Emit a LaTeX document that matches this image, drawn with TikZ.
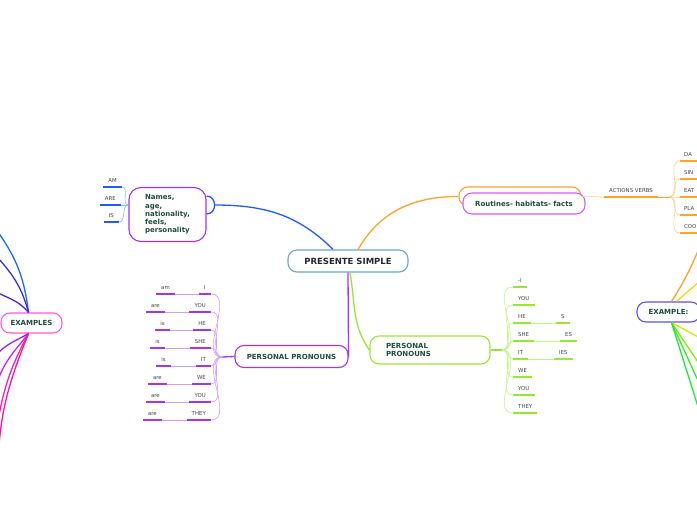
\documentclass[tikz,border=0pt]{standalone}
\usepackage{fontspec}
\setmainfont{DejaVu Sans}
\usetikzlibrary{positioning}
\definecolor{txtgreen}{HTML}{1F4D3D}
\definecolor{leaftxt}{HTML}{444444}
\definecolor{ctrblue}{HTML}{6AA6DA}
\definecolor{linkblue}{HTML}{1F5BFF}
\definecolor{paleblue}{HTML}{8FB2FF}
\definecolor{violet1}{HTML}{9A35F2}
\definecolor{purp}{HTML}{A335F0}
\definecolor{palepurp}{HTML}{D29CF7}
\definecolor{orng}{HTML}{FFA323}
\definecolor{paleorng}{HTML}{FFCF80}
\definecolor{magfr}{HTML}{DD5CF0}
\definecolor{lime}{HTML}{96EA2E}
\definecolor{palelime}{HTML}{C4F288}
\definecolor{exblue}{HTML}{5A52E8}
\definecolor{expink}{HTML}{FF5AD8}
\definecolor{exyel}{HTML}{FFD600}
\definecolor{exgA}{HTML}{CDF000}
\definecolor{exgB}{HTML}{82EE00}
\definecolor{exgC}{HTML}{3EE81E}
\definecolor{exgD}{HTML}{18EE3C}
\definecolor{exsA}{HTML}{2266FF}
\definecolor{exsB}{HTML}{3333E6}
\definecolor{exsC}{HTML}{4628EE}
\definecolor{exsD}{HTML}{9622EE}
\definecolor{exsE}{HTML}{C822EE}
\definecolor{exsF}{HTML}{EE1EC8}
\definecolor{exsG}{HTML}{FF1496}

\begin{document}
\begin{tikzpicture}[x=1pt,y=-1pt,
    main node/.style={draw,rounded corners=9pt,line width=1.1pt,fill=white,text=txtgreen,font=\bfseries\fontsize{7}{8.2}\selectfont,inner sep=0pt},
    leaf/.style={anchor=south west,inner xsep=5pt,inner ysep=0pt,text height=4pt,text depth=4.5pt,font=\fontsize{5.4}{6}\selectfont,text=leaftxt,
      append after command={(\tikzlastnode.south west) edge[draw=#1,line width=1.5pt] (\tikzlastnode.south east)}},
    twig/.style={draw=#1,line width=0.6pt},
    link/.style={draw=#1,line width=1.3pt}]
    \useasboundingbox (0,0) rectangle (697,520);

    % main topics
    \node[main node,draw=ctrblue,text=black!85,font=\bfseries\fontsize{8.5}{10}\selectfont,minimum width=120pt,minimum height=22pt] (ctr) at (348,261) {PRESENTE SIMPLE};
    \node[main node,draw=violet1,rounded corners=12pt,minimum width=77pt,minimum height=54pt,align=left] (names) at (167.5,214.5) {Names,\\age,\\nationality,\\feels,\\personality};
    \node[main node,draw=purp,minimum width=113pt,minimum height=22pt] (ppl) at (291.5,356.5) {PERSONAL PRONOUNS};
    \node[main node,draw=lime,minimum width=120pt,minimum height=28pt,text width=88pt,align=left] (ppr) at (430,350) {PERSONAL\\PRONOUNS};
    \node[main node,draw=orng,minimum width=122pt,minimum height=19pt] (rout) at (520,196.5) {};
    \node[main node,draw=magfr,minimum width=122pt,minimum height=21pt] (routb) at (524,203.5) {Routines- habitats- facts};
    \node[main node,draw=exblue,minimum width=63pt,minimum height=20pt] (ex) at (668.5,312) {EXAMPLE:};
    \node[main node,draw=expink,minimum width=61pt,minimum height=20pt] (exs) at (31.5,323) {EXAMPLES};

    % links from the centre
    \path[link=linkblue] ([xshift=-15pt]ctr.north) edge[out=135,in=0] ([xshift=8pt,yshift=9.5pt]names.east);
    \path[link=linkblue] ([yshift=18.5pt]names.east) .. controls +(10.7,0) and +(10.7,0) .. ([yshift=0.5pt]names.east);
    \path[link=orng] ([xshift=10pt]ctr.north) edge[out=60,in=180] (rout.west);
    \path[link=purp] (ctr.south) edge (ppl.east);
    \path[link=lime] ([xshift=2pt]ctr.south) edge[out=-80,in=125] (ppr.west);

    % AM ARE IS
    \node[leaf=linkblue,anchor=south east] (am) at (122,187) {AM};
    \node[leaf=linkblue,anchor=south east] (are) at (121,205) {ARE};
    \node[leaf=linkblue,anchor=south east] (is) at (119,222) {IS};
    \foreach \n in {am,are,is}
      \path[twig=paleblue] ([yshift=9.5pt]names.west) edge[out=180,in=0] (\n.south east);

    % pronouns and verb to be
    \coordinate (phub) at (222,357);
    \path[link=purp] (ppl.west) edge (phub);
    \foreach \r/\l/\y/\e [count=\i] in {I/am/294/175, YOU/are/312/165, HE/is/330/170, SHE/is/348/165, IT/is/366/171, WE/are/384/167, YOU/are/402/165, THEY/are/420/162} {
      \node[leaf=purp,anchor=south east] (pr\i) at (211,\y) {\r};
      \node[leaf=purp,anchor=south east] (pv\i) at (\e,\y) {\l};
      \path[twig=palepurp] (pv\i.south east) edge (pr\i.south west);
      \path[twig=palepurp] (phub) edge[out=180,in=0] (pr\i.south east);
    }

    % pronouns and endings
    \coordinate (ghub) at (502,350);
    \path[link=lime] (ppr.east) edge (ghub);
    \foreach \w/\y [count=\i] in {-I/287, YOU/305, HE/323, SHE/341, IT/359, WE/377, YOU/395, THEY/413} {
      \node[leaf=lime] (gr\i) at (513,\y) {\w};
      \path[twig=palelime] (ghub) edge[out=0,in=180] (gr\i.south west);
    }
    \node[leaf=lime] (sfs) at (556,323) {S};
    \node[leaf=lime] (sfes) at (560,341) {ES};
    \node[leaf=lime] (sfies) at (554,359) {IES};
    \path[twig=palelime] (gr3.south east) edge (sfs.south west);
    \path[twig=palelime] (gr4.south east) edge (sfes.south west);
    \path[twig=palelime] (gr5.south east) edge (sfies.south west);

    % verbs
    \node[leaf=orng] (verbs) at (604,197) {ACTIONS VERBS};
    \path[twig=paleorng] (rout.east) edge (verbs.south west);
    \coordinate (vhub) at (669,197);
    \path[twig=orng] (verbs.south east) edge (vhub);
    \foreach \w/\y [count=\i] in {DA/161, SIN/179, EAT/197, PLA/215, COO/233} {
      \node[leaf=orng,inner xsep=4pt,text width=13pt] (vb\i) at (680,\y) {\w};
      \path[twig=paleorng] (vhub) edge[out=0,in=180] (vb\i.south west);
    }

    % example lines (cut by the page)
    \coordinate (xa) at (700,246);
    \coordinate (xb) at (700,281);
    \coordinate (xc) at (700,338);
    \coordinate (xd) at (700,365);
    \coordinate (xe) at (700,385);
    \coordinate (xf) at (700,413);
    \path[link=orng] ([xshift=3pt]ex.north) edge[bend right=5] (xa);
    \path[link=exyel] ([xshift=8pt]ex.north) edge (xb);
    \path[link=exgA] ([xshift=3pt]ex.south) edge (xc);
    \path[link=exgB] ([xshift=3pt]ex.south) edge (xd);
    \path[link=exgC] ([xshift=3pt]ex.south) edge (xe);
    \path[link=exgD] ([xshift=3pt]ex.south) edge (xf);

    \coordinate (ya) at (-2,232);
    \coordinate (yb) at (-2,258);
    \coordinate (yc) at (-2,293);
    \coordinate (yd) at (-2,353);
    \coordinate (ye) at (-2,380);
    \coordinate (yf) at (-2,421);
    \coordinate (yg) at (-2,464);
    \path[link=exsA] ([xshift=-3pt]exs.north) edge[out=97,in=-55] (ya);
    \path[link=exsB] ([xshift=-3pt]exs.north) edge[out=105,in=-48] (yb);
    \path[link=exsC] ([xshift=-3pt]exs.north) edge[out=130,in=-25] (yc);
    \path[link=exsD] ([xshift=-3pt]exs.south) edge[out=-150,in=45] (yd);
    \path[link=exsE] ([xshift=-3pt]exs.south) edge[out=-128,in=70] (ye);
    \path[link=exsF] ([xshift=-3pt]exs.south) edge[out=-118,in=80] (yf);
    \path[link=exsG] ([xshift=-3pt]exs.south) edge[out=-112,in=88] (yg);
\end{tikzpicture}
\end{document}
